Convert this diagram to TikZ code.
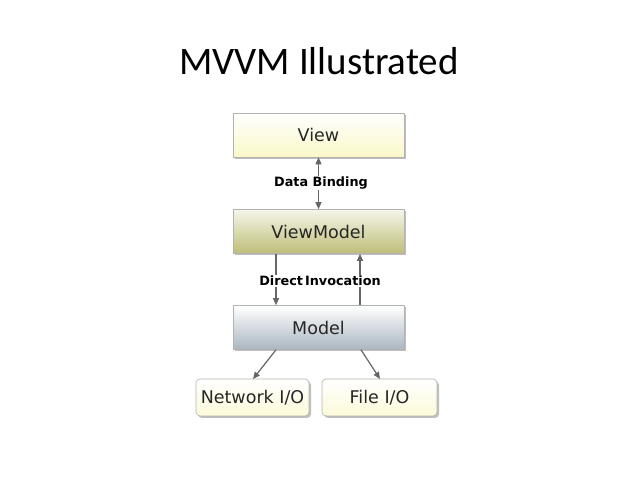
\documentclass[tikz,border=0pt]{standalone}
\usepackage{fontspec}
\setmainfont{DejaVu Sans}
\newfontfamily\titlefont{Carlito}
\usetikzlibrary{shadows,arrows.meta}
\definecolor{vmbot}{RGB}{190,190,120}
\definecolor{mbot}{RGB}{170,182,192}
\definecolor{vbot}{RGB}{250,248,200}
\begin{document}
\begin{tikzpicture}[x=1pt,y=-1pt,
  box/.style={draw=gray!60,line width=0.6pt,minimum height=44pt,minimum width=171pt,text=black!85,font=\fontsize{17.5}{20}\selectfont,drop shadow={shadow xshift=2pt,shadow yshift=-2pt,opacity=0.5}},
  io/.style={draw=gray!60,line width=0.6pt,rounded corners=4pt,minimum height=37pt,text=black!85,font=\fontsize{17.5}{20}\selectfont,drop shadow={shadow xshift=2pt,shadow yshift=-2pt,opacity=0.5},top color=white,bottom color=vbot!70},
  lab/.style={font=\bfseries\fontsize{12.8}{15}\selectfont},
  con/.style={draw=gray!80!black,line width=1.2pt,-{Triangle[length=7pt,width=6pt]}}]
\useasboundingbox (0,0) rectangle (638,478);
\node[font=\titlefont\fontsize{39}{44}\selectfont] (title) at (319,61) {MVVM Illustrated};
\node[box,top color=white,bottom color=vbot] (view) at (318.5,135) {View};
\node[box,top color=white!85!vmbot,bottom color=vmbot] (vm) at (318.5,231.5) {ViewModel};
\node[box,top color=white,bottom color=mbot] (model) at (318.5,327.5) {Model};
\node[io,minimum width=113pt] (net) at (252.5,397.5) {Network I/O};
\node[io,minimum width=115pt] (file) at (379.5,397.5) {File I/O};
\draw[con,{Triangle[length=7pt,width=6pt]}-{Triangle[length=7pt,width=6pt]}] (view.south) -- (vm.north);
\node[lab,fill=white,inner sep=1pt] (db) at (321,183) {Data Binding};
\draw[con] ([xshift=-42.5pt]vm.south) -- ([xshift=-42.5pt]model.north);
\draw[con] ([xshift=41.5pt]model.north) -- ([xshift=41.5pt]vm.south);
\node[lab,fill=white,inner sep=1pt] (di) at (320,281) {Direct\,Invocation};
\draw[con] ([xshift=-42.5pt]model.south) -- (253,379) coordinate (n1);
\draw[con] ([xshift=42.5pt]model.south) -- (380,379) coordinate (f1);
\end{tikzpicture}
\end{document}
